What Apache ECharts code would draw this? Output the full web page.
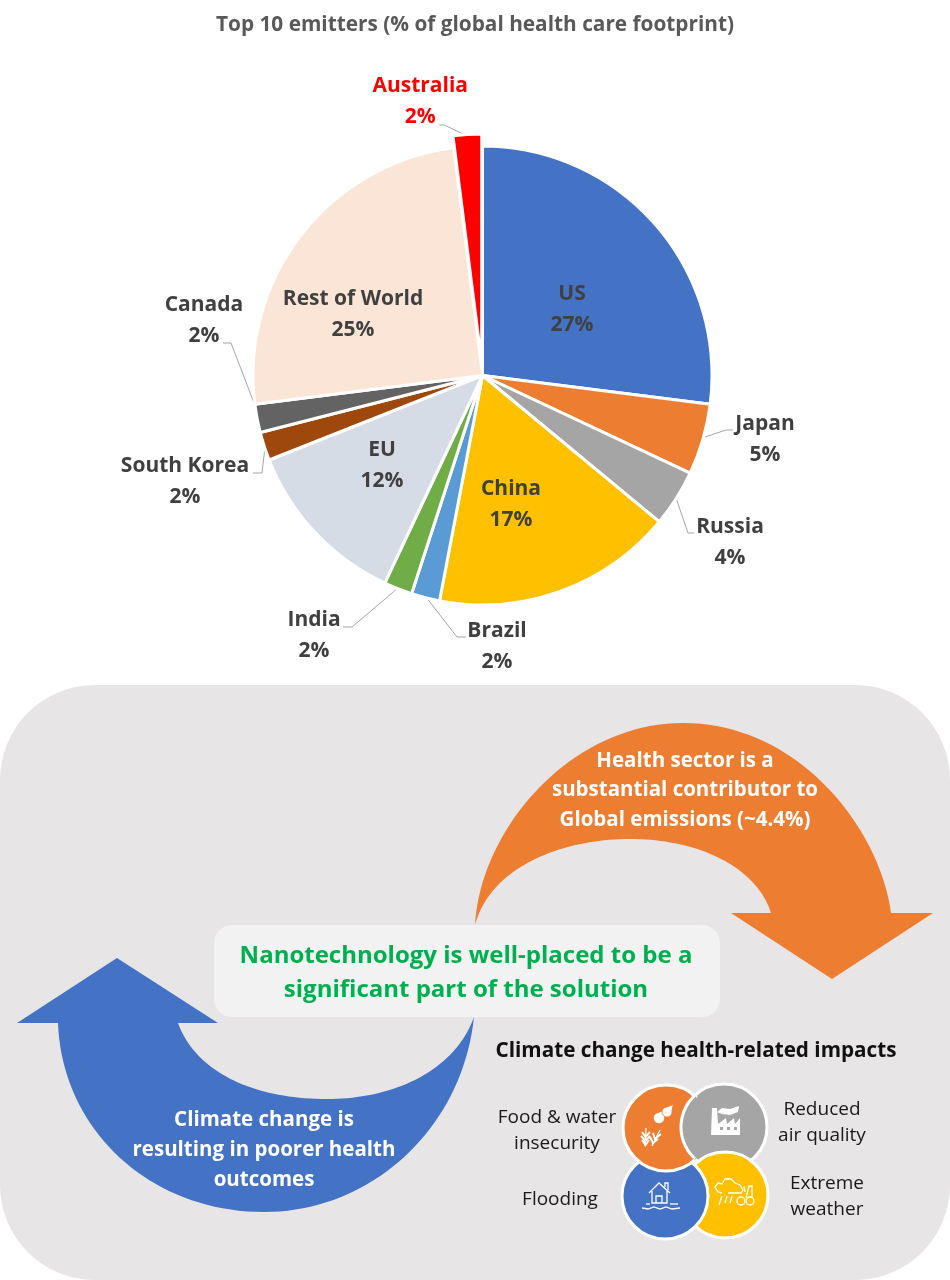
<!DOCTYPE html>
<html>
<head>
<meta charset="utf-8">
<style>html,body{margin:0;padding:0;background:#fff}#chart{width:950px;height:1280px}</style>
<script src="https://cdn.jsdelivr.net/npm/echarts@6/dist/echarts.min.js"></script>
</head>
<body>
<div id="chart"></div>
<script>
// Share of the global health care footprint, clockwise from twelve o'clock
const regions = ['US','Japan','Russia','China','Brazil','India','EU','South Korea','Canada','Rest of World','Australia'];
const shares = [27,5,4,17,2,2,12,2,2,25,2];
const sliceColors = ['#4472c4','#ed7d31','#a5a5a5','#ffc000','#5b9bd5','#70ad47','#d6dce5','#9e480e','#636363','#fbe5d6','#ff0000'];
const pulledOut = ['Australia'];

const FONT = '"Open Sans", "Noto Sans", sans-serif';

// Where each slice label sits, with its leader line when it has one
const labelSpots = {
  'US': {x:572, y:310},
  'Japan': {x:765, y:440, line:[[702,438],[726,430],[733,430]]},
  'Russia': {x:730, y:543, line:[[676,498],[688,533],[694,533]]},
  'China': {x:511, y:505},
  'Brazil': {x:497, y:647, line:[[426,597],[457,637],[466,637]]},
  'India': {x:314, y:636, line:[[398,588],[352,627],[343,627]]},
  'EU': {x:382, y:466},
  'South Korea': {x:185, y:482, line:[[265,447],[262,473],[253,473]]},
  'Canada': {x:204, y:321, line:[[259,416],[231,343],[223,343]]},
  'Rest of World': {x:353, y:315},
  'Australia': {x:421, y:101, line:[[468,148],[445,137],[440,137]]}
};

// Sampled cubic curves keep the swooping arrows as plain polygons
function sampleCubic(p0, c1, c2, p3, out) {
  const n = 40;
  for (let i = 0; i <= n; i++) {
    const t = i / n, u = 1 - t;
    out.push([
      u*u*u*p0[0] + 3*u*u*t*c1[0] + 3*u*t*t*c2[0] + t*t*t*p3[0],
      u*u*u*p0[1] + 3*u*u*t*c1[1] + 3*u*t*t*c2[1] + t*t*t*p3[1]
    ]);
  }
}
function traced(segments, extra) {
  const pts = [];
  segments.forEach(s => sampleCubic(s[0], s[1], s[2], s[3], pts));
  return pts.concat(extra || []);
}
function arcPoints(cx, cy, r, a0, a1) {
  const pts = [], n = 40;
  for (let i = 0; i <= n; i++) {
    const a = (a0 + (a1 - a0) * i / n) * Math.PI / 180;
    pts.push([cx + r * Math.cos(a), cy + r * Math.sin(a)]);
  }
  return pts;
}

const orangeArrow = traced([
  [[475,925],[480,830],[570,723],[683,723]],
  [[683,723],[800,723],[880,830],[891,913]]
], [[933,913],[832,979],[731,913],[771,913]]).concat(traced([
  [[771,913],[757,868],[700,839],[630,839]],
  [[630,839],[560,839],[490,868],[475,925]]
]));

const blueArrow = traced([
  [[474,1017],[462,1130],[370,1212],[264,1212]],
  [[264,1212],[150,1212],[62,1130],[58,1023]]
], [[17,1023],[117,958],[218,1023],[178,1023]]).concat(traced([
  [[178,1023],[195,1070],[250,1099],[327,1099]],
  [[327,1099],[395,1099],[455,1070],[474,1017]]
]));

function para(x, y, text, font, fill) {
  return {type:'text', z:5, style:{x, y, text, font, fill, align:'center', verticalAlign:'middle'}};
}
function body(lines, x, y0, dy) {
  return lines.map((t, i) => para(x, y0 + i*dy, t, '400 19px ' + FONT, '#1a1a1a'));
}
function poly(points, fill, z) {
  return {type:'polygon', z:z||8, shape:{points}, style:{fill}};
}
function stroke(points, w) {
  return {type:'polyline', z:8, shape:{points}, style:{stroke:'#fff', fill:'none', lineWidth:w||1.3}};
}
function ringShape(cx, cy, r) {
  return {type:'circle', z:8, shape:{cx, cy, r}, style:{fill:'none', stroke:'#fff', lineWidth:1.3}};
}
function bubble(cx, cy, fill, z) {
  return {type:'circle', z, shape:{cx, cy, r:BUBBLE_R}, style:{fill, stroke:'#fff', lineWidth:3}};
}
// Teardrop pointing up and to the right; an outline separates touching drops
function drop(cx, cy, r, outline) {
  const tip = [cx + r*1.25, cy - r*1.5];
  const shape = poly(arcPoints(cx, cy, r, -5, 235).concat([tip]), '#fff');
  if (outline) {
    shape.style.stroke = outline;
    shape.style.lineWidth = 1;
  }
  return shape;
}

const BUBBLE_R = 43;
const ORANGE = [666,1128], GRAY = [724,1127], YELLOW = [725,1195], BLUE = [665,1196];

// The four circles overlap in a ring: the grey one sits on the orange one,
// so its overlap with orange is painted again above the orange circle.
const half = (GRAY[0] - ORANGE[0]) / 2;
const spread = Math.acos(half / BUBBLE_R) * 180 / Math.PI;
const grayEdge = arcPoints(GRAY[0], GRAY[1], BUBBLE_R, 180 + spread, 180 - spread);
const orangeEdge = arcPoints(ORANGE[0], ORANGE[1], BUBBLE_R, spread, -spread);
const orangeRim = arcPoints(ORANGE[0], ORANGE[1], BUBBLE_R + 0.5, spread - 3, 3 - spread);

// Small white pictograms inside the four impact circles
const icons = [
  // droplets
  drop(659,1118,5.2), drop(667,1112,5,'#ed7d31'),
  // wheat ears
  stroke([[645,1146],[646,1128]]),
  stroke([[642,1132],[645.5,1137],[650,1132]],2), stroke([[641,1136],[645.5,1141],[650,1136]],2),
  stroke([[642,1140],[645.5,1145],[649,1140]],2),
  stroke([[652,1146],[660,1130]]),
  stroke([[653,1133],[655,1139],[661,1134]],2), stroke([[650,1137],[653,1143],[658,1139]],2),
  // factory
  poly([[711,1135],[712,1108],[717,1108],[718,1124],[726,1118],[727,1124],[734,1118],[735,1124],[740,1118],[740,1135]],'#fff'),
  poly([[717,1112],[722,1108],[730,1109],[739,1106],[738,1112],[730,1115],[722,1114]],'#fff'),
  poly([[720,1127],[723,1127],[723,1130],[720,1130]],'#a5a5a5',9),
  poly([[727,1127],[730,1127],[730,1130],[727,1130]],'#a5a5a5',9),
  poly([[734,1127],[737,1127],[737,1130],[734,1130]],'#a5a5a5',9),
  // house and flood water
  stroke([[649,1193],[659,1183],[670,1193]]), stroke([[652,1191],[652,1203],[667,1203],[667,1191]]),
  stroke([[656,1203],[656,1196],[662,1196],[662,1203]]), stroke([[665,1187],[665,1183],[668,1183],[668,1190]]),
  stroke([[642,1208],[648,1209],[654,1207],[660,1209],[666,1207],[672,1209],[680,1208]]),
  stroke([[646,1204],[650,1204]]), stroke([[670,1204],[678,1204]]),
  // storm cloud, rain and thermometer
  stroke([[722,1193],[718,1192],[715,1187],[718,1183],[722,1184],[725,1179],[731,1179],[735,1183],[740,1185],[743,1190],[741,1193],[728,1193]]),
  stroke([[722,1196],[719,1205]]), stroke([[727,1196],[725,1203]]), stroke([[732,1196],[730,1203]]),
  ringShape(741,1201,4), ringShape(750,1201,4), stroke([[746,1198],[749,1186],[752,1186],[752,1198]]),
  stroke([[745,1192],[744,1186]])
];

const HEAVY = '700 20.5px ' + FONT;
const GREEN = '700 24px ' + FONT;

const graphicElements = [
  {type:'rect', z:0, shape:{x:0, y:685, width:950, height:595, r:95}, style:{fill:'#e7e5e6'}},
  poly(orangeArrow,'#ed7d31',1),
  poly(blueArrow,'#4472c4',1),
  {type:'rect', z:2, shape:{x:214, y:925, width:506, height:92, r:18}, style:{fill:'#f2f2f2'}},
  para(466,956,'Nanotechnology is well-placed to be a',GREEN,'#00b050'),
  para(466,990,'significant part of the solution',GREEN,'#00b050'),
  para(685,761,'Health sector is a',HEAVY,'#fff'),
  para(685,790,'substantial contributor to',HEAVY,'#fff'),
  para(685,820,'Global emissions (~4.4%)',HEAVY,'#fff'),
  para(264,1120,'Climate change is',HEAVY,'#fff'),
  para(264,1150,'resulting in poorer health',HEAVY,'#fff'),
  para(264,1180,'outcomes',HEAVY,'#fff'),
  para(696,1051,'Climate change health-related impacts','700 20.7px ' + FONT,'#111'),
  bubble(GRAY[0],GRAY[1],'#a5a5a5',3),
  bubble(YELLOW[0],YELLOW[1],'#ffc000',4),
  bubble(BLUE[0],BLUE[1],'#4472c4',5),
  bubble(ORANGE[0],ORANGE[1],'#ed7d31',6),
  poly(grayEdge.concat(orangeEdge),'#a5a5a5',7),
  {type:'polyline', z:7, shape:{points:orangeRim}, style:{stroke:'#a5a5a5', fill:'none', lineWidth:3.5}},
  {type:'polyline', z:7, shape:{points:grayEdge}, style:{stroke:'#fff', fill:'none', lineWidth:3}},
  ...body(['Food & water','insecurity'],557,1118,26),
  ...body(['Reduced','air quality'],822,1110,26),
  ...body(['Flooding'],560,1200,26),
  ...body(['Extreme','weather'],827,1184,26),
  ...icons
];

const chart = echarts.init(document.getElementById('chart'), null, {renderer:'canvas'});
chart.setOption({
  animation:false,
  backgroundColor:'#fff',
  title:{
    text:'Top 10 emitters (% of global health care footprint)',
    left:470, top:10, textAlign:'center',
    textStyle:{fontFamily:FONT, fontWeight:700, fontSize:20.8, color:'#595959'}
  },
  series:[{
    type:'pie',
    center:[482.5,375.5],
    radius:[0,229.5],
    startAngle:90,
    clockwise:true,
    selectedMode:'multiple',
    selectedOffset:12,
    avoidLabelOverlap:false,
    itemStyle:{borderColor:'#fff', borderWidth:3},
    label:{
      show:true,
      formatter:'{b}\n{d}%',
      fontFamily:FONT, fontWeight:700, fontSize:21, lineHeight:31, color:'#404040',
      align:'center'
    },
    labelLine:{show:true, lineStyle:{color:'#a6a6a6', width:1}},
    labelLayout(params){
      const spot = labelSpots[regions[params.dataIndex]];
      const out = {x:spot.x, y:spot.y, align:'center', verticalAlign:'middle'};
      if (spot.line) out.labelLinePoints = spot.line;
      return out;
    },
    data:regions.map((name,i)=>{
      const pulled = pulledOut.includes(name);
      return {
        name, value:shares[i],
        selected:pulled,
        itemStyle:{color:sliceColors[i]},
        label: name==='Australia' ? {color:'#ff0000'} : undefined,
        // A pulled-out slice keeps its label where the guide lengths put it
        labelLine: pulled
          ? {show:true, length:33, length2:40}
          : {show:!!labelSpots[name].line}
      };
    })
  }],
  graphic:{elements:graphicElements}
});
</script>
</body>
</html>
